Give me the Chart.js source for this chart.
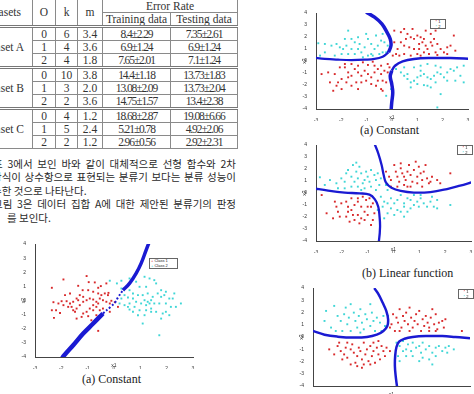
<!DOCTYPE html>
<html>
<head>
<meta charset="utf-8">
<script src="https://cdn.jsdelivr.net/npm/chart.js@4/dist/chart.umd.min.js"></script>
<style>
  html, body { margin: 0; padding: 0; background: #fff; }
  body { width: 474px; height: 394px; overflow: hidden; position: relative; }
  table.err { position: absolute; left: -30px; top: -2px; border-collapse: collapse; table-layout: fixed;
    font-family: "Liberation Serif", serif; font-size: 11.5px; color: #333; }
  table.err td { border: 1px solid #8a8a8a; padding: 0; text-align: center; line-height: 12px; white-space: nowrap; overflow: hidden; }
  table.err td.num { letter-spacing: -1.1px; }
  table.err tr.grp td { border-top: 3px double #777; }
  .txt { position: absolute; font-family: "Noto Sans CJK KR", sans-serif; font-size: 10.5px; color: #2a2a2a;
    line-height: 13px; white-space: nowrap; }
  .just { text-align: justify; text-align-last: justify; }
  .cap { position: absolute; font-family: "Liberation Serif", serif; font-size: 12px; color: #222; white-space: nowrap; }
  .lg { position: absolute; border: 1px solid #666; background: #fff; font-family: "Liberation Sans", sans-serif;
    font-size: 4px; line-height: 4.5px; color: #222; padding: 0 1px; }
  .r { color: #d8282a; } .c { color: #3fd6d6; }
  canvas { position: absolute; }
</style>
</head>
<body>

<table class="err">
  <colgroup><col style="width:62px"><col style="width:23px"><col style="width:22px"><col style="width:25px"><col style="width:68px"><col style="width:67px"></colgroup>
  <tr style="height:14px"><td rowspan="2">Datasets</td><td rowspan="2">O</td><td rowspan="2">k</td><td rowspan="2">m</td><td colspan="2">Error Rate</td></tr>
  <tr style="height:14px"><td>Training data</td><td>Testing data</td></tr>
  <tr class="grp" style="height:13px"><td rowspan="3">Dataset A</td><td>0</td><td>6</td><td>3.4</td><td class="num">8.4±2.29</td><td class="num">7.35±2.61</td></tr>
  <tr style="height:13px"><td>1</td><td>4</td><td>3.6</td><td class="num">6.9±1.24</td><td class="num">6.9±1.24</td></tr>
  <tr style="height:13px"><td>2</td><td>4</td><td>1.8</td><td class="num">7.65±2.01</td><td class="num">7.1±1.24</td></tr>
  <tr class="grp" style="height:13px"><td rowspan="3">Dataset B</td><td>0</td><td>10</td><td>3.8</td><td class="num">14.4±1.18</td><td class="num">13.73±1.83</td></tr>
  <tr style="height:13px"><td>1</td><td>3</td><td>2.0</td><td class="num">13.08±2.09</td><td class="num">13.73±2.04</td></tr>
  <tr style="height:13px"><td>2</td><td>2</td><td>3.6</td><td class="num">14.75±1.57</td><td class="num">13.4±2.38</td></tr>
  <tr class="grp" style="height:13px"><td rowspan="3">Dataset C</td><td>0</td><td>4</td><td>1.2</td><td class="num">18.68±2.87</td><td class="num">19.08±6.66</td></tr>
  <tr style="height:13px"><td>1</td><td>5</td><td>2.4</td><td class="num">5.21±0.78</td><td class="num">4.92±2.06</td></tr>
  <tr style="height:13px"><td>2</td><td>2</td><td>1.2</td><td class="num">2.96±0.56</td><td class="num">2.92±2.31</td></tr>
</table>

<div class="txt just" style="left:-7px; top:157px; width:243px">표 3에서 보인 바와 같이 대체적으로 선형 함수와 2차</div>
<div class="txt just" style="left:-8px; top:170px; width:244px">항식이 상수항으로 표현되는 분류기 보다는 분류 성능이</div>
<div class="txt" style="left:-8px; top:184px">수한 것으로 나타난다.</div>
<div class="txt just" style="left:-7px; top:197px; width:243px">그림 3은 데이터 집합 A에 대한 제안된 분류기의 판정</div>
<div class="txt" style="left:7px; top:211px">를 보인다.</div>

<canvas id="chartBL" width="176" height="129" style="left:21px; top:240px"></canvas>
<canvas id="chartTR" width="170" height="112" style="left:302px; top:9px"></canvas>
<canvas id="chartMR" width="173" height="112" style="left:302px; top:141px"></canvas>
<canvas id="chartBR" width="175" height="114" style="left:299px; top:284px"></canvas>

<div class="lg" style="left:149px; top:258px; width:25px; height:9px">
  <div><span class="r">+</span> Class 1</div><div><span class="c">+</span> Class 2</div>
</div>
<div class="lg" style="left:430px; top:19px; width:12px; height:8px; text-align:center">
  <div><span class="r">* </span>1</div><div><span class="c">* </span>2</div>
</div>
<div class="lg" style="left:457px; top:145px; width:12px; height:8px; text-align:center">
  <div><span class="r">* </span>1</div><div><span class="c">* </span>2</div>
</div>
<div class="lg" style="left:458px; top:289px; width:12px; height:8px; text-align:center">
  <div><span class="r">* </span>1</div><div><span class="c">* </span>2</div>
</div>

<div class="cap" style="left:82px; top:372px">(a) Constant</div>
<div class="cap" style="left:360px; top:123px">(a) Constant</div>
<div class="cap" style="left:362px; top:266px">(b) Linear function</div>

<script>
/* decision boundary plots */
const RED = '#d8282a';
const CYAN = '#3fd6d6';
const BLUE = '#1a1ad2';

// (a) Constant, dataset A (bottom left)
const blClass1 = [[-2.36,0.90],[-1.92,1.49],[-1.04,1.73],[-0.96,1.30],[-1.36,1.04],[-0.73,1.28],[-0.60,0.90],[-0.50,1.02],[-0.29,1.21],
  [-0.21,0.54],[-0.60,0.50],[-0.79,0.62],[-0.98,0.73],[-1.19,0.73],[-1.30,0.38],[-1.42,0.14],[-1.55,-0.09],[-1.67,-0.21],[-1.80,-0.05],
  [-1.99,-0.05],[-2.11,-0.21],[-2.30,-0.12],[-2.36,-0.69],[-2.20,-0.69],[-2.05,-0.88],[-2.28,-1.23],[-1.61,-0.45],[-1.55,-0.69],
  [-1.42,-0.57],[-1.30,-0.33],[-1.17,-0.09],[-1.04,0.02],[-0.92,0.14],[-0.79,0.07],[-0.67,-0.09],[-0.54,0.14],[-0.42,0.02],
  [-0.29,-0.09],[-0.16,-0.21],[-0.10,-0.02],[-0.23,0.38],[-0.35,0.50],[-0.48,0.38],[-0.67,-0.45],[-0.79,-0.69],[-0.92,-0.57],
  [-1.04,-0.80],[-1.17,-0.92],[-1.42,-1.28],[-1.23,-1.16],[-0.98,-1.11],[-0.86,-1.40],[-0.67,-1.04],[-0.54,-0.69],[-0.42,-0.57],
  [-0.16,-0.80],[-0.60,-2.15],[-1.48,-0.80],[-1.74,-0.45],[-1.92,-0.33],[-1.86,0.38],[-1.67,0.50],[-1.36,0.02],[-1.17,0.26],
  [-0.79,-0.33],[-0.60,-0.21],[0.15,-0.45],[0.03,-0.12]];
const blClass2 = [[-0.16,1.40],[0.11,1.21],[0.28,1.40],[0.59,1.56],[0.84,1.33],[1.16,1.68],[1.35,1.56],[1.53,1.44],[1.60,1.21],
  [1.79,0.73],[1.97,0.62],[2.29,0.50],[2.54,-0.21],[2.35,-0.45],[2.16,-0.45],[1.97,-0.80],[1.85,-0.92],[1.79,-1.28],[1.60,-0.80],
  [1.41,-0.57],[1.22,-0.33],[1.03,-0.21],[0.84,-0.09],[0.72,0.14],[0.53,0.21],[0.40,0.38],[0.28,0.14],[0.21,-0.21],[0.40,-0.33],
  [0.59,-0.21],[0.78,-0.45],[0.97,-0.69],[1.16,-1.04],[1.09,-1.63],[1.72,-2.46],[1.47,0.26],[1.28,0.50],[1.09,0.38],[0.91,0.38],
  [0.72,0.50],[0.59,0.73],[0.47,0.97],[0.28,0.85],[0.97,0.97],[1.22,0.97],[1.66,0.50],[1.79,0.26],[1.91,0.38],[1.41,0.02],
  [1.28,-0.09],[1.16,0.02],[1.35,-0.21],[1.53,-0.21],[1.72,-0.21],[1.97,-0.21],[2.10,0.14],[2.23,0.14],[0.59,-0.64],[0.72,-0.80],
  [0.91,-1.04],[0.53,-0.45],[1.22,-0.69],[1.41,-0.80],[2.10,-1.04]];
const blCurveLow = [[-2.00,-4.20],[-1.92,-3.95],[-1.55,-3.17],[-1.17,-2.34],[-0.79,-1.63],[-0.42,-0.92]];
const blCurveMid = [[-0.42,-0.92],[-0.10,-0.40],[0.06,-0.09],[0.15,0.21],[0.34,0.73]];
const blCurveHigh = [[0.34,0.73],[0.59,1.21],[0.84,1.92],[1.03,2.63],[1.22,3.57],[1.32,4.05]];

// (a) Constant, right column top
const trClass1 = [[0.09,2.53],[0.35,2.40],[0.48,2.67],[0.61,2.26],[0.74,1.98],[0.87,1.84],[1.00,2.12],[1.13,1.98],[1.20,1.56],
  [1.33,1.28],[1.40,1.00],[1.53,1.56],[1.59,1.28],[1.66,1.84],[1.79,1.42],[1.92,1.00],[2.05,0.72],[2.18,1.14],[2.31,1.28],
  [2.44,2.12],[2.50,0.86],[1.72,0.72],[1.46,0.58],[1.26,0.72],[1.07,1.00],[0.87,1.00],[0.68,1.14],[0.48,1.28],[0.35,1.56],
  [0.22,1.00],[0.16,0.58],[0.29,0.45],[0.48,0.58],[0.74,0.45],[1.00,0.58],[1.13,0.45],[1.92,2.95],[1.53,2.26],[1.33,2.53],
  [0.81,2.67],[0.55,1.84],[0.09,1.56],[0.03,0.45],[1.79,0.50],[2.18,0.58],[1.72,2.53],[1.07,1.42],[1.26,1.84],
  [-2.78,-1.09],[-2.52,-0.95],[-2.26,-1.09],[-2.19,-2.06],[-2.13,-1.78],[-1.99,-1.50],[-2.06,-0.53],[-1.86,-0.53],[-1.73,-0.95],
  [-1.60,-1.23],[-1.47,-0.67],[-1.34,-0.95],[-1.21,-1.23],[-1.08,-0.81],[-0.95,-1.09],[-0.82,-1.36],[-0.69,-0.95],[-0.56,-0.67],
  [-0.43,-1.09],[-0.30,-0.81],[-0.17,-0.95],[-0.43,-0.39],[-0.69,-0.39],[-0.95,-0.33],[-1.34,-0.39],[-1.60,-0.25],[-1.86,-0.25],
  [-1.80,-1.78],[-1.60,-2.06],[-1.41,-1.78],[-1.21,-1.78],[-1.02,-1.64],[-0.82,-1.92],[-0.63,-2.06],[-0.43,-2.34],[-0.23,-1.78],
  [-0.37,-1.64],[-0.56,-1.64],[-1.34,-2.34],[-1.73,-1.36],[-2.32,-2.48],[-2.45,-1.78],[-1.99,-2.34],[-0.10,-0.53],[-0.17,-0.25],
  [-0.76,-0.06],[-1.15,-0.11],[-0.37,-2.48]];
const trClass2 = [[-2.91,1.48],[-2.65,1.42],[-2.39,1.28],[-2.19,1.42],[-2.06,1.14],[-1.93,1.00],[-1.80,1.28],[-1.73,2.53],
  [-1.60,1.84],[-1.47,1.56],[-1.34,1.00],[-1.21,0.72],[-1.08,1.14],[-0.95,1.84],[-0.82,1.42],[-0.69,1.00],[-0.56,1.28],
  [-0.43,1.70],[-0.30,1.56],[-0.17,1.28],[-0.23,0.72],[-0.37,0.72],[-0.82,0.58],[-0.95,0.45],[-1.15,0.31],[-1.47,0.58],
  [-1.73,0.58],[-1.99,0.58],[-2.26,0.45],[-2.65,0.72],[-2.84,0.45],[-1.34,1.98],[-1.02,2.26],[-0.63,2.12],[-0.37,2.26],
  [-0.76,0.45],[-1.60,1.00],[-1.86,1.84],[-0.50,0.58],[-1.28,1.42],
  [0.16,-0.67],[0.35,-0.95],[0.48,-1.23],[0.61,-1.50],[0.74,-1.78],[0.87,-1.64],[1.00,-1.36],[1.13,-1.23],[1.26,-1.09],
  [1.40,-1.36],[1.53,-1.50],[1.66,-1.23],[1.79,-0.95],[1.92,-1.09],[2.05,-1.36],[2.18,-0.95],[2.31,-0.67],[2.44,-0.81],
  [2.57,-0.53],[2.83,-0.39],[2.70,-1.23],[2.50,-1.64],[2.83,-1.78],[1.40,-2.06],[1.53,-2.20],[1.26,-2.01],[1.00,-1.92],
  [0.74,-2.20],[0.61,-1.09],[0.48,-0.53],[0.87,-0.53],[1.13,-0.39],[1.40,-0.25],[1.72,-0.39],[1.92,-0.53],[2.18,-1.64],
  [-0.04,-2.34],[-0.23,-2.90],[1.79,-3.87],[1.92,-2.76],[1.13,-0.81],[1.72,-1.78]];
const trCurveA = [[-3.10,0.28],[-2.65,0.17],[-2.13,0.11],[-1.60,0.08],[-1.08,0.11],[-0.69,0.17],[-0.37,0.36],[-0.14,0.72]];
const trCurveB = [[-0.14,0.72],[-0.04,1.28],[-0.07,1.84],[-0.20,2.40],[-0.40,3.09],[-0.69,3.65],[-1.02,4.07]];
const trCurveC = [[-0.04,-4.23],[-0.01,-3.45],[0.03,-2.62],[-0.01,-1.92],[-0.07,-1.28],[-0.01,-0.81]];
const trCurveD = [[-0.01,-0.81],[0.12,-0.39],[0.42,-0.03],[0.87,0.17],[1.53,0.25],[2.31,0.25],[3.16,0.17]];

// (b) Linear function, right column middle
const mrClass1 = [[-0.29,1.78],[-0.17,1.36],[-0.10,1.08],[0.03,2.33],[0.09,1.78],[0.15,1.36],[0.22,0.94],[0.28,2.06],[0.34,1.64],
  [0.41,1.36],[0.47,1.08],[0.54,1.78],[0.60,2.33],[0.66,1.50],[0.73,0.94],[0.79,1.92],[0.86,2.61],[0.92,1.36],[0.98,2.19],
  [1.05,1.64],[1.11,1.08],[1.17,1.78],[1.24,2.33],[1.30,1.22],[1.37,0.81],[1.43,0.94],[1.49,1.36],[0.41,0.67],[0.15,0.53],
  [0.66,0.53],[-0.10,0.53],[2.20,1.64],[1.69,1.08],[1.81,0.81],[0.28,2.47],[0.92,0.81],[0.54,0.53],[1.11,0.53],
  [-2.78,-0.17],[-2.27,-0.72],[-2.21,-1.14],[-2.15,-1.56],[-2.34,-2.11],[-2.08,-1.97],[-2.02,-0.86],[-1.83,-0.72],[-1.76,-1.14],
  [-1.63,-1.42],[-1.51,-1.00],[-1.38,-0.72],[-1.25,-1.14],[-1.12,-1.56],[-1.00,-1.83],[-0.87,-1.14],[-0.80,-0.86],[-0.93,-0.44],
  [-1.06,-0.58],[-1.19,-0.31],[-1.38,-0.44],[-1.63,-0.44],[-1.76,-1.56],[-1.57,-1.83],[-1.38,-1.83],[-1.25,-2.11],[-1.12,-2.25],
  [-0.80,-2.25],[-1.32,-2.53],[-1.83,-1.97],[-1.70,-2.39],[-2.59,-1.69],[-0.74,-1.69],[-1.51,-2.25],[-1.00,-1.14],[-0.87,-2.67]];
const mrClass2 = [[-2.85,1.31],[-2.46,1.08],[-2.21,0.81],[-2.15,0.39],[-1.89,0.94],[-1.83,1.64],[-1.76,1.92],[-1.63,1.36],
  [-1.57,2.33],[-1.51,0.94],[-1.44,1.78],[-1.38,1.22],[-1.32,2.19],[-1.25,1.64],[-1.19,0.81],[-1.12,1.08],[-1.06,1.78],
  [-1.00,1.36],[-0.93,0.94],[-0.87,1.92],[-0.74,1.50],[-0.68,1.08],[-0.61,1.64],[-0.55,0.67],[-0.49,1.22],[-0.87,0.53],
  [-1.12,0.39],[-1.38,0.53],[-1.63,0.53],[-1.89,0.39],[-1.25,0.25],[-0.68,0.25],[-2.66,0.67],[-2.02,1.22],[-1.44,2.53],
  [-0.29,0.67],[-0.23,0.25],
  [-0.49,-0.31],[-0.36,-0.72],[-0.23,-0.86],[-0.10,-0.44],[0.03,-0.86],[0.15,-0.58],[0.28,-0.17],[0.41,-0.86],[0.54,-0.44],
  [0.66,-0.58],[0.79,-1.00],[0.92,-0.72],[1.05,-0.44],[1.17,-0.86],[1.30,-1.14],[1.43,-0.72],[1.56,-1.14],[1.69,-1.28],
  [1.49,-0.31],[1.05,-0.17],[0.79,-0.17],[0.41,-1.14],[0.15,-1.42],[-0.10,-1.28],[-0.23,-1.69],[0.03,-1.83],[0.28,-1.56],
  [0.54,-1.56],[0.66,-1.28],[1.69,-0.58],[2.20,-1.00],[-0.36,-2.11],[-0.61,-1.42],[-0.42,-1.14],[0.98,-1.14],[0.41,-1.97]];
const mrCurveUpper = [[-0.74,4.14],[-0.59,3.31],[-0.46,2.33],[-0.38,1.50],[-0.29,0.86],[-0.08,0.44],[0.28,0.17],[0.79,0.03],
  [1.43,0.08],[2.07,0.33],[2.58,0.61],[3.03,0.89]];
const mrCurveLower = [[-3.10,0.39],[-2.53,0.19],[-1.89,0.03],[-1.32,-0.03],[-0.93,-0.14],[-0.72,-0.53],[-0.59,-1.14],
  [-0.54,-1.97],[-0.52,-2.81],[-0.56,-3.92],[-0.61,-4.25]];

// third plot, right column bottom
const brClass1 = [[0.06,1.86],[0.19,1.58],[0.25,1.17],[0.31,2.27],[0.38,0.77],[0.44,1.72],[0.50,1.31],[0.56,1.99],[0.63,1.04],
  [0.69,2.40],[0.75,1.58],[0.81,0.77],[0.88,1.31],[0.94,1.86],[1.00,1.04],[1.06,2.13],[1.13,0.49],[1.19,1.45],[1.25,0.90],
  [1.31,1.72],[1.38,1.17],[1.44,0.77],[1.50,1.58],[1.56,2.27],[1.63,1.04],[1.69,1.86],[1.75,0.63],[1.81,1.17],[1.94,1.31],
  [2.00,0.77],[2.06,1.45],[0.00,1.04],[0.13,0.49],[0.31,0.49],[0.69,0.49],[1.44,0.49],[2.69,0.49],[1.69,0.49],[-0.06,0.77],
  [-2.38,-1.01],[-2.19,-1.42],[-2.06,-0.74],[-2.00,-0.46],[-1.94,-1.15],[-1.81,-1.42],[-1.75,-0.87],[-1.69,-1.69],[-1.56,-1.01],
  [-1.50,-0.60],[-1.44,-1.28],[-1.38,-2.10],[-1.31,-1.56],[-1.25,-0.87],[-1.19,-1.15],[-1.13,-1.83],[-1.06,-0.46],[-1.00,-1.42],
  [-0.94,-1.01],[-0.88,-1.97],[-0.81,-0.74],[-0.75,-1.56],[-0.69,-1.15],[-0.63,-2.10],[-0.56,-0.87],[-0.50,-1.42],[-0.44,-1.83],
  [-0.38,-0.74],[-0.31,-1.15],[-0.25,-1.56],[-0.19,-0.87],[-1.69,-0.46],[-1.88,-1.83],[-1.13,-2.51],[-1.31,-2.38],[-0.81,-2.24],
  [-0.50,-0.33],[-0.69,-0.46],[-0.06,-1.15],[-1.56,-2.24],[-1.06,-2.24]];
const brClass2 = [[-2.50,2.13],[-2.19,2.54],[-2.06,1.72],[-1.94,1.31],[-1.81,1.86],[-1.75,2.40],[-1.69,1.04],[-1.63,1.58],
  [-1.56,2.68],[-1.44,1.99],[-1.38,1.31],[-1.31,0.77],[-1.25,1.72],[-1.19,2.27],[-1.13,1.17],[-1.06,0.63],[-1.00,1.86],
  [-0.94,1.45],[-0.81,0.90],[-0.75,1.99],[-0.69,1.31],[-0.63,0.49],[-0.56,1.58],[-0.44,1.17],[-0.31,1.72],[-2.31,0.77],
  [-2.13,0.49],[-1.88,0.49],[-1.56,0.49],[-2.56,1.31],[-0.81,2.68],[-1.19,0.36],[-0.38,0.49],[-0.25,0.90],[-0.13,1.72],
  [0.19,-0.46],[0.31,-0.74],[0.44,-0.33],[0.56,-1.01],[0.63,-0.60],[0.75,-1.15],[0.81,-0.46],[0.94,-0.87],[1.06,-0.74],
  [1.13,-1.28],[1.19,-0.46],[1.31,-1.01],[1.44,-0.74],[1.56,-1.28],[1.69,-0.87],[1.81,-0.74],[1.94,-1.15],[2.06,-0.87],
  [2.19,-0.74],[2.13,-1.28],[1.69,-1.56],[1.19,-1.69],[0.81,-1.56],[0.56,-1.56],[0.31,-1.97],[0.25,-1.56],[1.44,-1.83],
  [1.56,-2.24],[1.06,-1.97],[2.38,-1.01],[0.44,-1.15]];
const brCurveUpper = [[-3.0,0.49],[-2.56,0.19],[-2.06,0.03],[-1.44,-0.05],[-0.94,0.0],[-0.56,0.19],[-0.31,0.49],[-0.16,0.90],
  [-0.13,1.45],[-0.20,2.13],[-0.34,2.81],[-0.50,3.50],[-0.66,3.99]];
const brCurveLower = [[3.0,-0.11],[2.44,0.0],[1.94,0.08],[1.31,0.08],[0.81,0.0],[0.50,-0.14],[0.29,-0.38],[0.19,-0.82],
  [0.14,-1.56],[0.13,-2.38],[0.16,-3.20],[0.21,-4.02]];

const pts = (arr) => arr.map(([x, y]) => ({ x, y }));

function curve(data, width, dash) {
  return {
    data: pts(data),
    showLine: true,
    borderColor: BLUE,
    backgroundColor: BLUE,
    borderWidth: width,
    borderDash: dash || [],
    tension: 0.4,
    pointRadius: 0,
    order: 0,
  };
}

function classSet(label, data, color) {
  return {
    label,
    data: pts(data),
    pointStyle: 'rect',
    pointRadius: 1.35,
    borderWidth: 0,
    backgroundColor: color,
    borderColor: color,
    order: 1,
  };
}

const tickFont = { family: 'Liberation Sans', size: 5 };

function axisOpts(min, max, title, isY) {
  return {
    type: 'linear',
    min,
    max,
    ticks: { stepSize: 1, font: tickFont, color: '#333', padding: 1, maxRotation: 0, autoSkip: false },
    grid: { display: false },
    border: { display: true, color: '#444', width: 1 },
    title: { display: true, text: title, font: tickFont, color: '#333', padding: 0 },
    afterFit: (s) => {
      if (isY) s.width = 14;
      else s.height = 12;
    },
  };
}

function boundaryChart(id, c1, c2, curves, padRight) {
  new Chart(document.getElementById(id), {
    type: 'scatter',
    data: {
      datasets: [
        ...curves,
        classSet('Class 1', c1, RED),
        classSet('Class 2', c2, CYAN),
      ],
    },
    options: {
      responsive: false,
      animation: false,
      devicePixelRatio: 1,
      layout: { padding: { top: 4, right: padRight, left: 0, bottom: 0 } },
      plugins: { legend: { display: false }, tooltip: { enabled: false } },
      scales: {
        x: axisOpts(-3, 3, 'x1', false),
        y: axisOpts(-4, 4, 'x2', true),
      },
    },
  });
}

boundaryChart('chartBL', blClass1, blClass2, [
  curve(blCurveLow, 4.5),
  curve(blCurveMid, 2, [2, 2]),
  curve(blCurveHigh, 3.5),
], 3);

boundaryChart('chartTR', trClass1, trClass2, [
  curve(trCurveA, 2.2),
  curve(trCurveB, 3.5),
  curve(trCurveC, 3.5),
  curve(trCurveD, 2.5),
], 3);

boundaryChart('chartMR', mrClass1, mrClass2, [
  curve(mrCurveUpper, 2.3),
  curve(mrCurveLower, 2.3),
], 2);

boundaryChart('chartBR', brClass1, brClass2, [
  curve(brCurveUpper, 2.5),
  curve(brCurveLower, 2.5),
], 1);
</script>
</body>
</html>
